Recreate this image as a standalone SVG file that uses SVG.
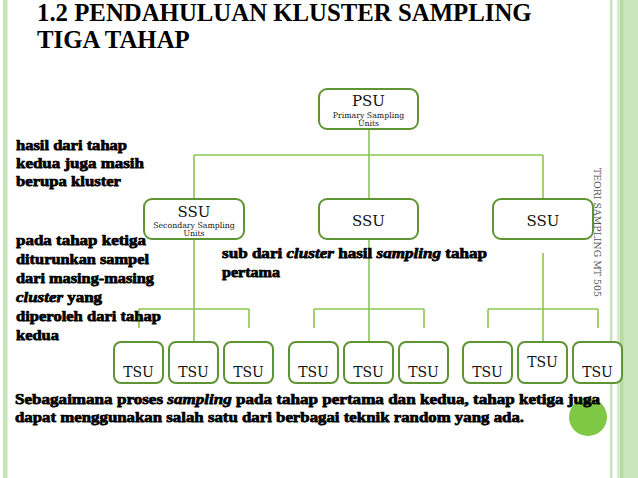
<svg xmlns="http://www.w3.org/2000/svg" width="638" height="478" viewBox="0 0 638 478">
<style>
.box{fill:#fff;stroke:#5f9434;stroke-width:2}
.con{fill:none;stroke:#8cc652;stroke-width:1.6}
.nt{font-family:"DejaVu Serif","Liberation Serif",serif;fill:#111;text-anchor:middle}
.big{font-size:15px}
.sm{font-size:7.8px}
.tsu{font-size:14px}
.bt{font-family:"Liberation Serif","Times New Roman",serif;font-weight:bold;font-size:15.5px;fill:#000;stroke:#000;stroke-width:0.75;stroke-linejoin:round}
.it{font-style:italic}
.title{font-family:"Liberation Serif","Times New Roman",serif;font-weight:bold;font-size:24.8px;fill:#000}
</style>
<rect width="638" height="478" fill="#fff"/>
<g id="frame">
<rect x="3" y="0" width="4.5" height="478" fill="#c6e5b8"/>
<rect x="610" y="0" width="2.5" height="478" fill="#c6e5b8"/>
<rect x="617" y="0" width="21" height="478" fill="#c8e6ba"/>
<rect x="617" y="0" width="3" height="478" fill="#d6edcb"/>
<rect x="620" y="0" width="3.5" height="478" fill="#b8dba5"/>
</g>
<g id="title">
<text class="title" x="37" y="21">1.2 PENDAHULUAN KLUSTER SAMPLING</text>
<text class="title" x="37" y="48">TIGA TAHAP</text>
</g>
<text x="594" y="168" transform="rotate(90 594 168)" font-family="DejaVu Serif, Liberation Serif, serif" font-size="9.6" fill="#555" textLength="129" lengthAdjust="spacingAndGlyphs">TEORI SAMPLING MT 505</text>
<g id="connectors">
<path class="con" d="M369 129V155M194 155H543M194 155V199M369 155V199M543 155V199"/>
<path class="con" d="M194 239V342M139 309H249M139 309V328M249 309V328"/>
<path class="con" d="M369 239V342M314 309H424M314 309V328M424 309V328"/>
<path class="con" d="M543 253V342M488 309H598M488 309V328M598 309V328"/>
</g>
<g id="psu">
<rect class="box" x="319" y="89" width="99" height="40" rx="8"/>
<text class="nt big" x="368.5" y="106">PSU</text>
<text class="nt sm" x="368.5" y="117.5">Primary Sampling</text>
<text class="nt sm" x="368.5" y="126">Units</text>
</g>
<g id="ssu1">
<rect class="box" x="144" y="199" width="100" height="40" rx="8"/>
<text class="nt big" x="194" y="217">SSU</text>
<text class="nt sm" x="194" y="228">Secondary Sampling</text>
<text class="nt sm" x="194" y="236">Units</text>
</g>
<g id="ssu2">
<rect class="box" x="319" y="199" width="99" height="40" rx="8"/>
<text class="nt big" x="368.5" y="226">SSU</text>
</g>
<g id="ssu3">
<rect class="box" x="493" y="199" width="100" height="40" rx="8"/>
<text class="nt big" x="543" y="226">SSU</text>
</g>
<g id="tsu1"><rect class="box" x="114" y="342" width="49" height="41" rx="7"/><text class="nt tsu" x="138.5" y="377">TSU</text></g>
<g id="tsu2"><rect class="box" x="169" y="342" width="49" height="41" rx="7"/><text class="nt tsu" x="193.5" y="377">TSU</text></g>
<g id="tsu3"><rect class="box" x="224" y="342" width="49" height="41" rx="7"/><text class="nt tsu" x="248.5" y="377">TSU</text></g>
<g id="tsu4"><rect class="box" x="289" y="342" width="49" height="41" rx="7"/><text class="nt tsu" x="313.5" y="377">TSU</text></g>
<g id="tsu5"><rect class="box" x="344" y="342" width="49" height="41" rx="7"/><text class="nt tsu" x="368.5" y="377">TSU</text></g>
<g id="tsu6"><rect class="box" x="399" y="342" width="49" height="41" rx="7"/><text class="nt tsu" x="423.5" y="377">TSU</text></g>
<g id="tsu7"><rect class="box" x="463" y="342" width="49" height="41" rx="7"/><text class="nt tsu" x="487.5" y="377">TSU</text></g>
<g id="tsu8"><rect class="box" x="518" y="342" width="49" height="41" rx="7"/><text class="nt tsu" x="542.5" y="367">TSU</text></g>
<g id="tsu9"><rect class="box" x="573" y="342" width="49" height="41" rx="7"/><text class="nt tsu" x="597.5" y="377">TSU</text></g>
<circle cx="588" cy="417" r="19" fill="#7ec845"/>
<g id="notes">
<text class="bt" x="16" y="150" textLength="111" lengthAdjust="spacingAndGlyphs">hasil dari tahap</text>
<text class="bt" x="16" y="168" textLength="128" lengthAdjust="spacingAndGlyphs">kedua juga masih</text>
<text class="bt" x="16" y="186" textLength="105" lengthAdjust="spacingAndGlyphs">berupa kluster</text>
<text class="bt" x="16" y="245" textLength="130" lengthAdjust="spacingAndGlyphs">pada tahap ketiga</text>
<text class="bt" x="16" y="264" textLength="133" lengthAdjust="spacingAndGlyphs">diturunkan sampel</text>
<text class="bt" x="16" y="283" textLength="138" lengthAdjust="spacingAndGlyphs">dari masing-masing</text>
<text class="bt" x="16" y="302" textLength="86" lengthAdjust="spacingAndGlyphs"><tspan class="it">cluster</tspan> yang</text>
<text class="bt" x="16" y="321" textLength="145" lengthAdjust="spacingAndGlyphs">diperoleh dari tahap</text>
<text class="bt" x="16" y="340" textLength="43" lengthAdjust="spacingAndGlyphs">kedua</text>
<text class="bt" x="222" y="258" textLength="265" lengthAdjust="spacingAndGlyphs">sub  dari <tspan class="it">cluster</tspan> hasil <tspan class="it">sampling</tspan> tahap</text>
<text class="bt" x="222" y="277" textLength="58" lengthAdjust="spacingAndGlyphs">pertama</text>
<text class="bt" x="15" y="404" textLength="585" lengthAdjust="spacingAndGlyphs">Sebagaimana proses <tspan class="it">sampling</tspan>  pada tahap pertama dan kedua, tahap ketiga juga</text>
<text class="bt" x="15" y="422" textLength="509" lengthAdjust="spacingAndGlyphs">dapat menggunakan salah satu dari berbagai teknik random yang ada.</text>
</g>
</svg>
